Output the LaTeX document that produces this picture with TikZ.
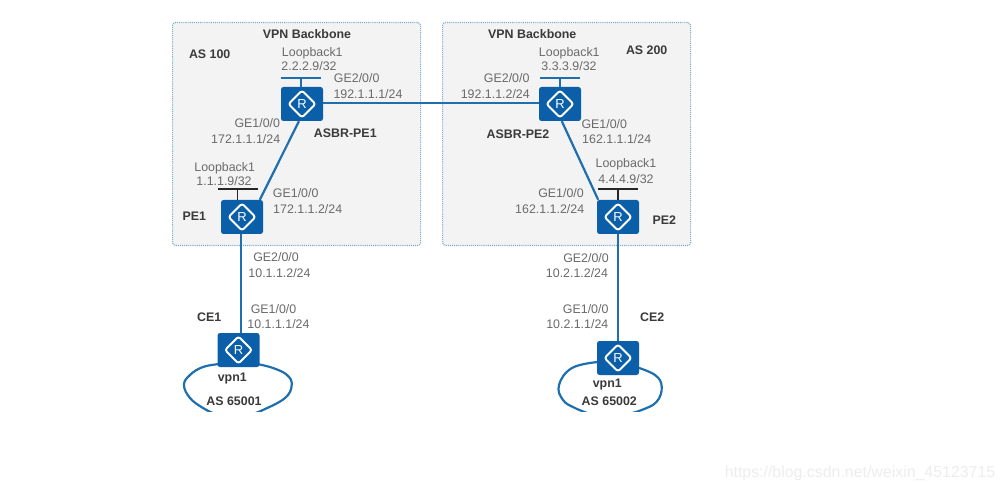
\documentclass[tikz,border=0pt]{standalone}
\usepackage{fontspec}
\setmainfont{Liberation Sans}
\definecolor{rblue}{HTML}{0B5FA8}
\definecolor{lblue}{HTML}{1F6FAE}
\definecolor{boxedge}{HTML}{7FAECB}
\definecolor{boxfill}{HTML}{F3F3F3}
\definecolor{lab}{HTML}{6A6A6A}
\definecolor{head}{HTML}{3A3A3A}
\tikzset{
  asbox/.style={draw=boxedge,fill=boxfill,densely dotted,line width=1.1pt,rounded corners=3pt},
  router/.style={rectangle,rounded corners=2.5pt,fill=rblue,minimum width=42pt,minimum height=34pt,inner sep=0pt,
    text=white,font=\fontsize{13}{13}\selectfont,
    path picture={\draw[white,line width=1.9pt,line join=miter]
      ([xshift=-13.5pt]path picture bounding box.center)--([yshift=13.5pt]path picture bounding box.center)--
      ([xshift=13.5pt]path picture bounding box.center)--([yshift=-13.5pt]path picture bounding box.center)--cycle;}},
  link/.style={draw=lblue,line width=2.2pt},
  lpblue/.style={draw=lblue,line width=1.8pt},
  lpblack/.style={draw=black!85,line width=1.8pt},
  iface/.style={text=lab,font=\fontsize{12.4}{12.4}\selectfont,inner sep=0pt},
  title/.style={text=head,font=\fontsize{12.4}{12.4}\selectfont\bfseries,inner sep=0pt},
  mark text/.style={text=black!7,font=\fontsize{15.9}{15.9}\selectfont,inner sep=0pt}
}
\begin{document}
\begin{tikzpicture}[x=1pt,y=-1pt]
\useasboundingbox (0,0) rectangle (1005,492);
\fill[white] (0,0) rectangle (1005,492);
\node[asbox,minimum width=248pt,minimum height=223pt,anchor=north west,inner sep=0pt] (as100) at (172,22) {};
\node[asbox,minimum width=248pt,minimum height=223pt,anchor=north west,inner sep=0pt] (as200) at (442,22) {};

% clouds (cut by the picture's lower crop)
\begin{scope}
\clip (170,340) rectangle (700,411);
\draw[lblue,line width=2.2pt] plot[smooth,tension=.7] coordinates {(220,364) (203,367) (190,375) (184,385) (190,398) (203,408) (215,414)};
\draw[lblue,line width=2.2pt] plot[smooth,tension=.7] coordinates {(257,364) (273,368) (287,375) (291.7,385) (285,398) (263,410) (252,414)};
\draw[lblue,line width=2.2pt] plot[smooth,tension=.7] coordinates {(598,362) (572,368) (559,385) (563,400) (575,408) (590,414)};
\draw[lblue,line width=2.2pt] plot[smooth,tension=.7] coordinates {(636,367) (655,375) (661.7,386.7) (656.7,401.7) (641.7,410) (628,414)};
\end{scope}

\node[router] (asbrA) at (302,104) {R};
\node[router] (asbrB) at (560,104) {R};
\node[router] (peA) at (242,217) {R};
\node[router] (peB) at (618,217) {R};
\node[router] (ceA) at (238.5,350) {R};
\node[router] (ceB) at (618,358) {R};

\draw[link] (asbrA.east |- 0,103) -- (asbrB.west |- 0,103);
\draw[link] (asbrA.-100) -- (peA.44);
\draw[link] (asbrB.-84) -- (peB.139);
\draw[link] (peA.south -| 241,0) -- (ceA.north -| 241,0);
\draw[link] (peB.south) -- (ceB.north);

% loopback bars
\coordinate (lbA) at (301,78);
\coordinate (lbB) at (560,78);
\coordinate (lbC) at (237.5,189);
\coordinate (lbD) at (618,189);
\draw[lpblue] ([xshift=-20pt]lbA) -- ([xshift=20pt]lbA);
\draw[lpblue] (lbA) -- (lbA |- asbrA.north);
\draw[lpblue] ([xshift=-20pt]lbB) -- ([xshift=20pt]lbB);
\draw[lpblue] (lbB) -- (lbB |- asbrB.north);
\draw[lpblack] ([xshift=-20pt]lbC) -- ([xshift=20pt]lbC);
\draw[lpblack] (lbC) -- (lbC |- peA.north);
\draw[lpblack] ([xshift=-20pt]lbD) -- ([xshift=20pt]lbD);
\draw[lpblack] (lbD) -- (lbD |- peB.north);

% headings
\node[title] (t1) at (307,34) {VPN Backbone};
\node[title] (t2) at (532.3,34) {VPN Backbone};
\node[title] (t3) at (209.7,54) {AS 100};
\node[title] (t4) at (646.7,50) {AS 200};
\node[title] (t5) at (345.3,133.3) {ASBR-PE1};
\node[title] (t6) at (518,134) {ASBR-PE2};
\node[title] (t7) at (194.3,216) {PE1};
\node[title] (t8) at (664.3,220) {PE2};
\node[title] (t9) at (209.3,317.3) {CE1};
\node[title] (t10) at (652.3,317.3) {CE2};
\node[title] (t11) at (232.3,379) {vpn1};
\node[title] (t12) at (234,401) {AS 65001};
\node[title] (t13) at (607.3,384.3) {vpn1};
\node[title] (t14) at (609.3,401.7) {AS 65002};

% interface labels
\node[iface] (a1) at (312.3,53.3) {Loopback1};
\node[iface] (a2) at (309,66) {2.2.2.9/32};
\node[iface] (a3) at (356.7,78.3) {GE2/0/0};
\node[iface] (a4) at (368,94) {192.1.1.1/24};
\node[iface] (a5) at (257.3,123.3) {GE1/0/0};
\node[iface] (a6) at (245.7,139) {172.1.1.1/24};
\node[iface] (a7) at (224.7,168.3) {Loopback1};
\node[iface] (a8) at (224,181.3) {1.1.1.9/32};
\node[iface] (a9) at (295.7,193.3) {GE1/0/0};
\node[iface] (a10) at (307.7,209) {172.1.1.2/24};
\node[iface] (b1) at (569.3,53.3) {Loopback1};
\node[iface] (b2) at (569,66) {3.3.3.9/32};
\node[iface] (b3) at (506.7,78.3) {GE2/0/0};
\node[iface] (b4) at (495.3,94) {192.1.1.2/24};
\node[iface] (b5) at (604.3,124) {GE1/0/0};
\node[iface] (b6) at (616.7,139) {162.1.1.1/24};
\node[iface] (b7) at (626,164.3) {Loopback1};
\node[iface] (b8) at (626,179) {4.4.4.9/32};
\node[iface] (b9) at (561,193.3) {GE1/0/0};
\node[iface] (b10) at (549.7,209) {162.1.1.2/24};
\node[iface] (c1) at (276,257) {GE2/0/0};
\node[iface] (c2) at (279.5,273) {10.1.1.2/24};
\node[iface] (c3) at (273.5,309) {GE1/0/0};
\node[iface] (c4) at (278.5,324) {10.1.1.1/24};
\node[iface] (d1) at (586,258) {GE2/0/0};
\node[iface] (d2) at (577,273) {10.2.1.2/24};
\node[iface] (d3) at (585.7,309) {GE1/0/0};
\node[iface] (d4) at (577.3,324) {10.2.1.1/24};

\node[mark text] (wm) at (860,473.5) {https://blog.csdn.net/weixin\_45123715};
\end{tikzpicture}
\end{document}
